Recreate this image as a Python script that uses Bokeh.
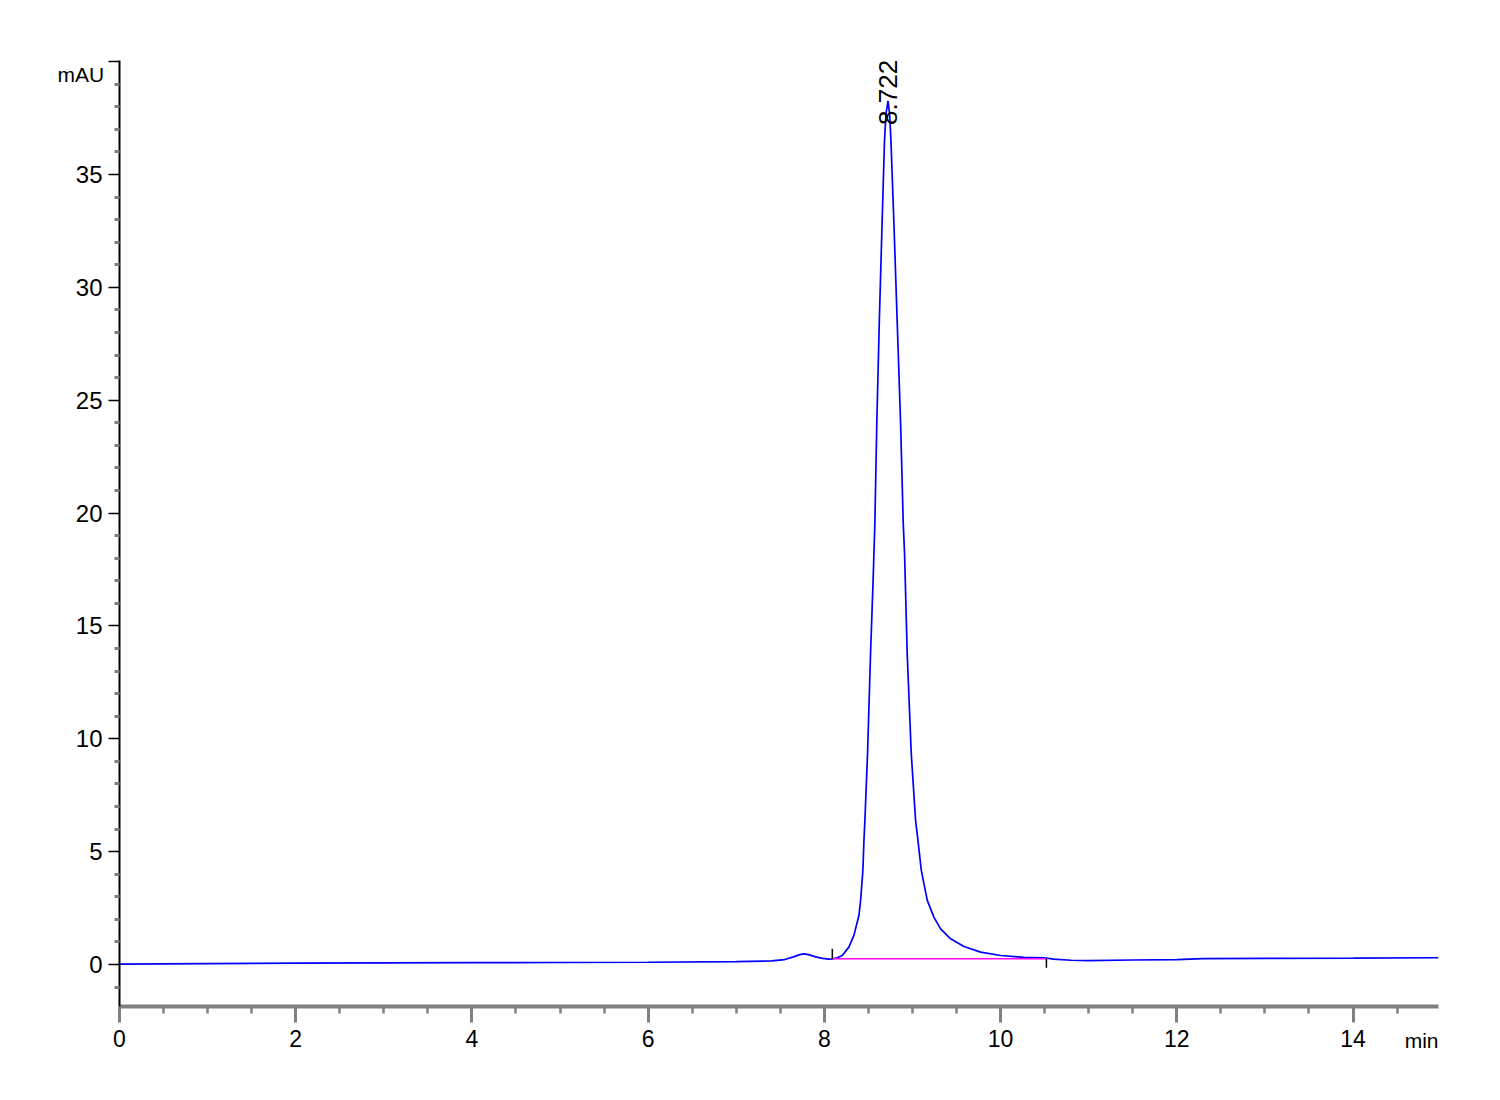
import math
from bokeh.plotting import figure
from bokeh.models import Range1d, FixedTicker, Label, Title
from bokeh.embed import file_html
from bokeh.resources import INLINE

# ---- data ----
time_min = [0.0, 1.0, 2.0, 3.0, 4.0, 5.0, 6.0, 7.0, 7.4, 7.55, 7.65, 7.72, 7.77, 7.82,
            7.9, 7.98, 8.05, 8.09, 8.146, 8.203, 8.278, 8.335, 8.392, 8.411, 8.437, 8.449,
            8.46, 8.49, 8.524, 8.553, 8.573, 8.595, 8.623, 8.655, 8.683, 8.70, 8.722, 8.74,
            8.755, 8.789, 8.827, 8.865, 8.895, 8.91, 8.94, 8.986, 9.035, 9.062, 9.10, 9.168,
            9.243, 9.319, 9.433, 9.584, 9.773, 10.0, 10.26, 10.49, 10.6, 10.8, 11.0, 11.5,
            12.0, 12.3, 13.0, 14.0, 14.97]
signal_mau = [0.02, 0.04, 0.06, 0.07, 0.08, 0.09, 0.10, 0.13, 0.16, 0.22, 0.34, 0.44, 0.47, 0.44,
              0.34, 0.27, 0.24, 0.25, 0.30, 0.40, 0.77, 1.29, 2.17, 2.84, 4.17, 5.50,
              6.39, 9.35, 13.78, 17.0, 19.55, 23.99, 28.42, 32.86, 36.56, 37.7, 38.26, 37.7,
              36.56, 32.86, 28.42, 23.99, 19.55, 18.22, 13.78, 9.35, 6.39, 5.50, 4.17, 2.84,
              2.10, 1.58, 1.14, 0.80, 0.55, 0.40, 0.32, 0.30, 0.24, 0.19, 0.17, 0.20,
              0.22, 0.26, 0.27, 0.28, 0.30]

peak_rt = 8.722
peak_height = 38.26
peak_label = "8.722"

baseline_t = [8.09, 10.52]
baseline_v = [0.25, 0.26]

x_major = [0, 2, 4, 6, 8, 10, 12, 14]
x_minor = [1, 3, 5, 7, 9, 11, 13, 0.5, 1.5, 2.5, 3.5, 4.5, 5.5, 6.5, 7.5, 8.5,
           9.5, 10.5, 11.5, 12.5, 13.5, 14.5]
y_major = [0, 5, 10, 15, 20, 25, 30, 35, 40]
y_minor = [-1, 1, 2, 3, 4, 6, 7, 8, 9, 11, 12, 13, 14, 16, 17, 18, 19, 21, 22, 23, 24,
           26, 27, 28, 29, 31, 32, 33, 34, 36, 37, 38, 39]

FONT = "Liberation Sans"

p = figure(frame_width=1319, frame_height=946,
           min_border_left=119, min_border_top=60, min_border_right=30, min_border_bottom=80,
           x_range=Range1d(0, 14.97), y_range=Range1d(-1.86, 40.05),
           output_backend="svg", toolbar_location=None)
p.outline_line_color = None
p.xgrid.visible = False
p.ygrid.visible = False
p.background_fill_color = "white"
p.border_fill_color = "white"

# y axis
ya = p.yaxis[0]
ya.ticker = FixedTicker(ticks=y_major, minor_ticks=y_minor)
ya.major_label_overrides = {40: ""}
ya.axis_line_color = "black"
ya.axis_line_width = 2
ya.major_tick_line_color = "black"
ya.major_tick_line_width = 1.5
ya.major_tick_out = 11
ya.major_tick_in = 0
ya.minor_tick_line_color = "#808080"
ya.minor_tick_line_width = 3
ya.minor_tick_out = 5
ya.minor_tick_in = 0
ya.major_label_text_font = FONT
ya.major_label_text_font_size = "24px"
ya.major_label_text_color = "black"
ya.major_label_standoff = 6

# x axis
xa = p.xaxis[0]
xa.ticker = FixedTicker(ticks=x_major, minor_ticks=x_minor)
xa.axis_line_color = "#808080"
xa.axis_line_width = 4
xa.major_tick_line_color = "#808080"
xa.major_tick_line_width = 3
xa.major_tick_out = 16
xa.major_tick_in = 0
xa.minor_tick_line_color = "#808080"
xa.minor_tick_line_width = 2.5
xa.minor_tick_out = 7
xa.minor_tick_in = 0
xa.major_label_text_font = FONT
xa.major_label_text_font_size = "23px"
xa.major_label_text_color = "black"
xa.major_label_standoff = 7

# signal
p.line(time_min, signal_mau, line_color="#0000ff", line_width=1.7)

# integration baseline
p.line(baseline_t, baseline_v, line_color="#ff00ff", line_width=1.5)
p.segment(x0=[baseline_t[0]], y0=[baseline_v[0]], x1=[baseline_t[0]], y1=[baseline_v[0] + 0.45],
          line_color="black", line_width=1.5)
p.segment(x0=[baseline_t[1]], y0=[baseline_v[1]], x1=[baseline_t[1]], y1=[baseline_v[1] - 0.4],
          line_color="black", line_width=1.5)

# peak label
p.add_layout(Label(x=peak_rt, y=peak_height, text=peak_label, angle=math.pi / 2,
                   text_align="left", text_baseline="middle", y_offset=-24,
                   text_font=FONT, text_font_size="26px", text_color="black"))

# unit labels as side-panel titles
p.add_layout(Title(text="mAU", align="left", offset=-62, vertical_align="bottom",
                   standoff=-50, text_font=FONT, text_font_size="21px",
                   text_font_style="normal", text_color="black"), "above")
p.add_layout(Title(text="min", align="right", offset=0, vertical_align="top",
                   standoff=-42, text_font=FONT, text_font_size="21px",
                   text_font_style="normal", text_color="black"), "below")

open("out.html", "w").write(file_html(p, INLINE))
